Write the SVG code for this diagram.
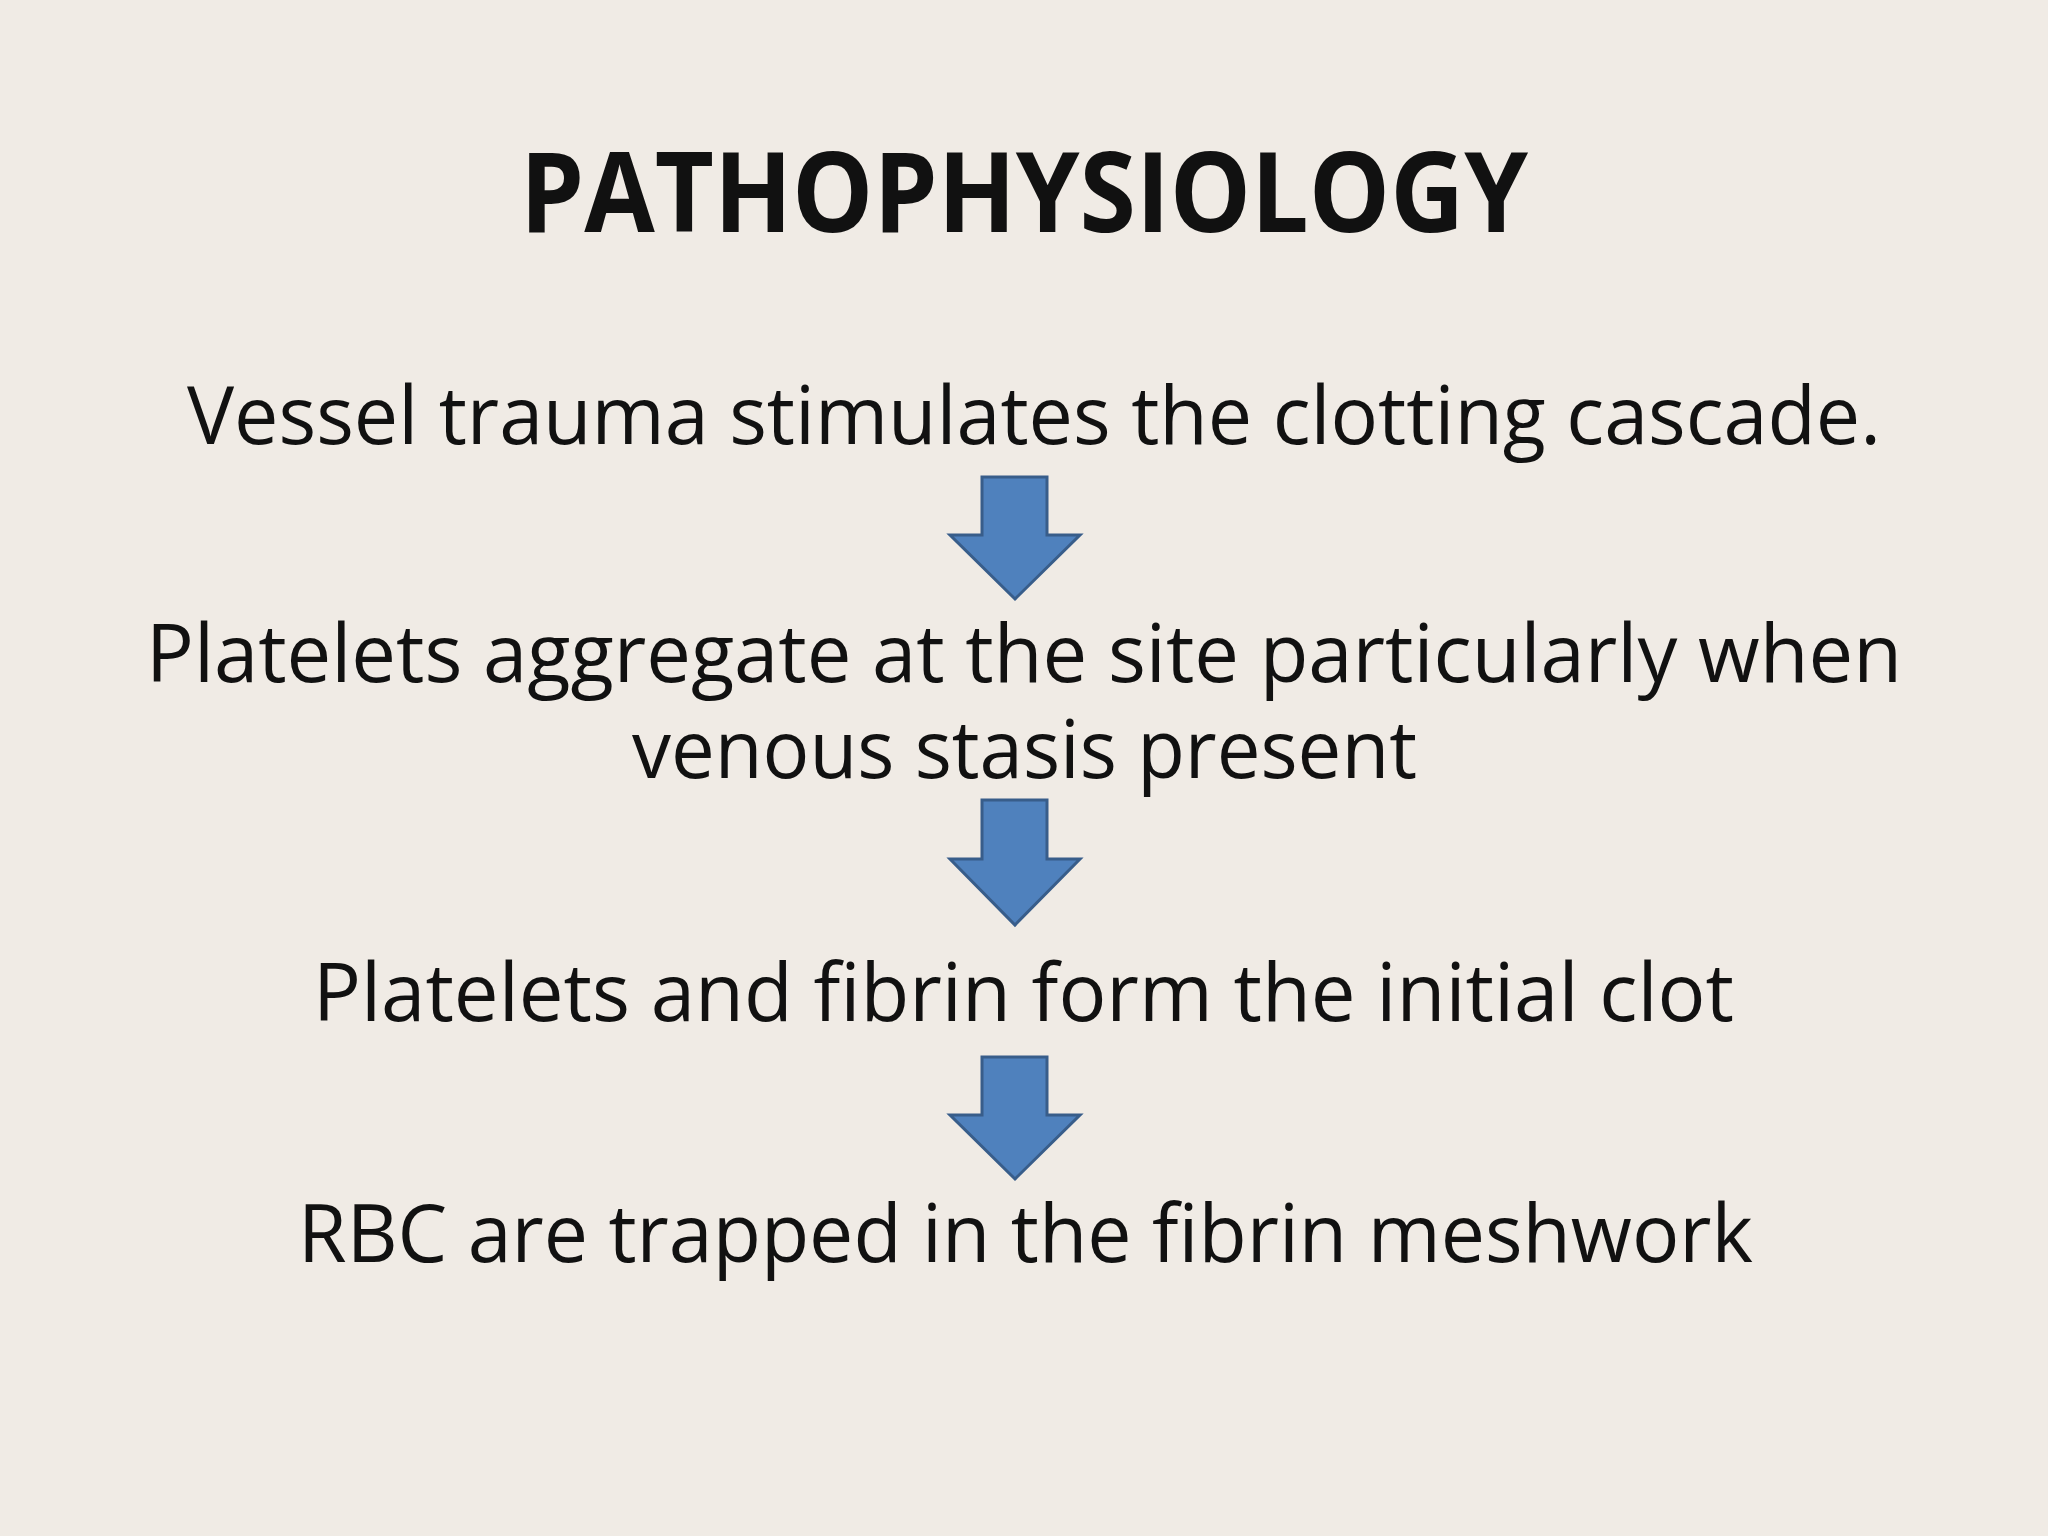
<svg xmlns="http://www.w3.org/2000/svg" width="2048" height="1536" viewBox="0 0 2048 1536">
<style>
.t{font-family:"Open Sans","Liberation Sans",sans-serif;fill:#111;font-size:80px}
.h{font-family:"Open Sans","Liberation Sans",sans-serif;font-weight:bold;fill:#111;font-size:112px}
.a{fill:#4F81BD;stroke:#385D8A;stroke-width:3}
</style>
<rect width="2048" height="1536" fill="#F0EBE5"/>
<g id="title"><text class="h" x="520" y="232" textLength="1008" lengthAdjust="spacingAndGlyphs">PATHOPHYSIOLOGY</text></g>
<g id="n1"><text class="t" x="187" y="444" textLength="1694" lengthAdjust="spacingAndGlyphs">Vessel trauma stimulates the clotting cascade.</text></g>
<g id="n2"><text class="t" x="146" y="682" textLength="1756" lengthAdjust="spacingAndGlyphs">Platelets aggregate at the site particularly when</text>
<text class="t" x="632" y="778" textLength="785" lengthAdjust="spacingAndGlyphs">venous stasis present</text></g>
<g id="n3"><text class="t" x="313" y="1021" textLength="1421" lengthAdjust="spacingAndGlyphs">Platelets and fibrin form the initial clot</text></g>
<g id="n4"><text class="t" x="298" y="1262" textLength="1455" lengthAdjust="spacingAndGlyphs">RBC are trapped in the fibrin meshwork</text></g>
<g id="connectors">
<path class="a" d="M982 477H1047V535H1080L1015 599L950 535H982Z"/>
<path class="a" d="M982 800H1047V859H1080L1015 925L950 859H982Z"/>
<path class="a" d="M982 1057H1047V1115H1080L1015 1179L950 1115H982Z"/>
</g>
</svg>
